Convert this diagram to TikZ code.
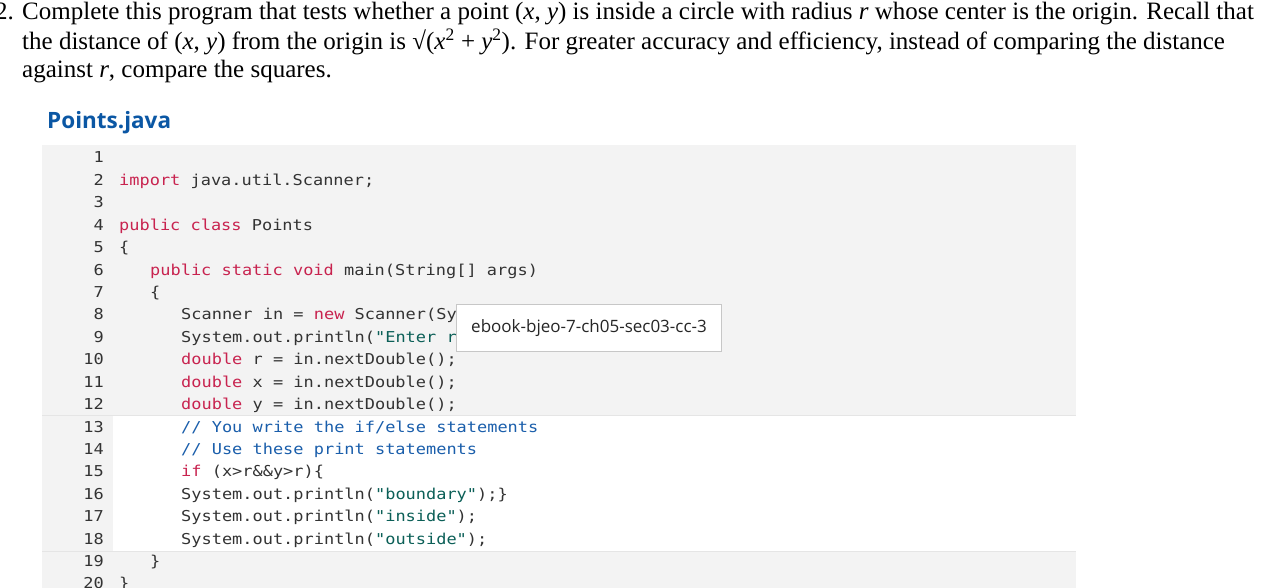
\documentclass[tikz,border=0pt]{standalone}
\usepackage{fontspec}
\setmainfont{Liberation Serif}
\newfontfamily\codefont[FakeStretch=1.13]{DejaVu Sans Mono}
\newfontfamily\uifont{Open Sans}
\definecolor{kw}{HTML}{C8234F}
\definecolor{str}{HTML}{0B5F57}
\definecolor{cmt}{HTML}{1A5EAB}
\definecolor{txt}{HTML}{333333}
\definecolor{ttl}{HTML}{0B57A4}
\definecolor{codebg}{HTML}{F3F3F3}
\begin{document}
\begin{tikzpicture}[x=1pt,y=-1pt,
  head/.style={anchor=base west,inner sep=0pt,font=\fontsize{25}{28}\selectfont,text=black},
  num/.style={anchor=base east,inner sep=0pt,font=\codefont\fontsize{15}{18}\selectfont,text=txt},
  code/.style={anchor=base west,inner sep=0pt,font=\codefont\fontsize{15}{18}\selectfont,text=txt}]
\useasboundingbox (0,0) rectangle (1273,588);
\begin{scope}
\clip (0,0) rectangle (1273,588);
\node[head,anchor=base east] (n2) at (14,20) {2.};
\end{scope}
\node[head] (h1) at (22,20) {Complete this program that tests whether a point (\textit{x}, \textit{y}) is inside a circle with radius \textit{r} whose center is the origin. Recall that};
\node[head] (h2) at (22,50) {the distance of (\textit{x}, \textit{y}) from the origin is √(\textit{x}\textsuperscript{2} + \textit{y}\textsuperscript{2}). For greater accuracy and efficiency, instead of comparing the distance};
\node[head] (h3) at (22,78) {against \textit{r}, compare the squares.};
\node[anchor=base west,inner sep=0pt,font=\uifont\bfseries\fontsize{22.5}{26}\selectfont,text=ttl] (title) at (47,129) {Points.java};
\fill[codebg] (42,145) rectangle (1076,588);
\fill[white] (113,415) rectangle (1076,551);
\draw[white!90!black,line width=0.8pt] (42,415) -- (1076,415) (42,551) -- (1076,551);
\foreach \i in {1,...,20} {
  \node[num] (l\i) at (104,{163+(\i-1)*22.42}) {\i};
}
\def\L#1{163+(#1-1)*22.42}
\node[code] (c2) at (119,{\L{2}}) {\textcolor{kw}{import} java.util.Scanner;};
\node[code] (c4) at (119,{\L{4}}) {\textcolor{kw}{public class} Points};
\node[code] (c5) at (119,{\L{5}}) {\{};
\node[code] (c6) at (150,{\L{6}}) {\textcolor{kw}{public static void} main(String[] args)};
\node[code] (c7) at (150,{\L{7}}) {\{};
\node[code] (c8) at (181,{\L{8}}) {Scanner in = \textcolor{kw}{new} Scanner(System.in);};
\node[code] (c9) at (181,{\L{9}}) {System.out.println(\textcolor{str}{"Enter r, x, y:"});};
\node[code] (c10) at (181,{\L{10}}) {\textcolor{kw}{double} r = in.nextDouble();};
\node[code] (c11) at (181,{\L{11}}) {\textcolor{kw}{double} x = in.nextDouble();};
\node[code] (c12) at (181,{\L{12}}) {\textcolor{kw}{double} y = in.nextDouble();};
\node[code,text=cmt] (c13) at (181,{\L{13}}) {// You write the if/else statements};
\node[code,text=cmt] (c14) at (181,{\L{14}}) {// Use these print statements};
\node[code] (c15) at (181,{\L{15}}) {\textcolor{kw}{if} (x>r\&\&y>r)\{};
\node[code] (c16) at (181,{\L{16}}) {System.out.println(\textcolor{str}{"boundary"});\}};
\node[code] (c17) at (181,{\L{17}}) {System.out.println(\textcolor{str}{"inside"});};
\node[code] (c18) at (181,{\L{18}}) {System.out.println(\textcolor{str}{"outside"});};
\node[code] (c19) at (150,{\L{19}}) {\}};
\node[code] (c20) at (119,{\L{20}}) {\}};
\node[draw=black!22,line width=1.5pt,fill=white,minimum width=265pt,minimum height=47pt,inner sep=0pt,
  font=\uifont\fontsize{17}{20}\selectfont,text=black!85] (tip) at (589,328) {ebook-bjeo-7-ch05-sec03-cc-3};
\end{tikzpicture}
\end{document}
